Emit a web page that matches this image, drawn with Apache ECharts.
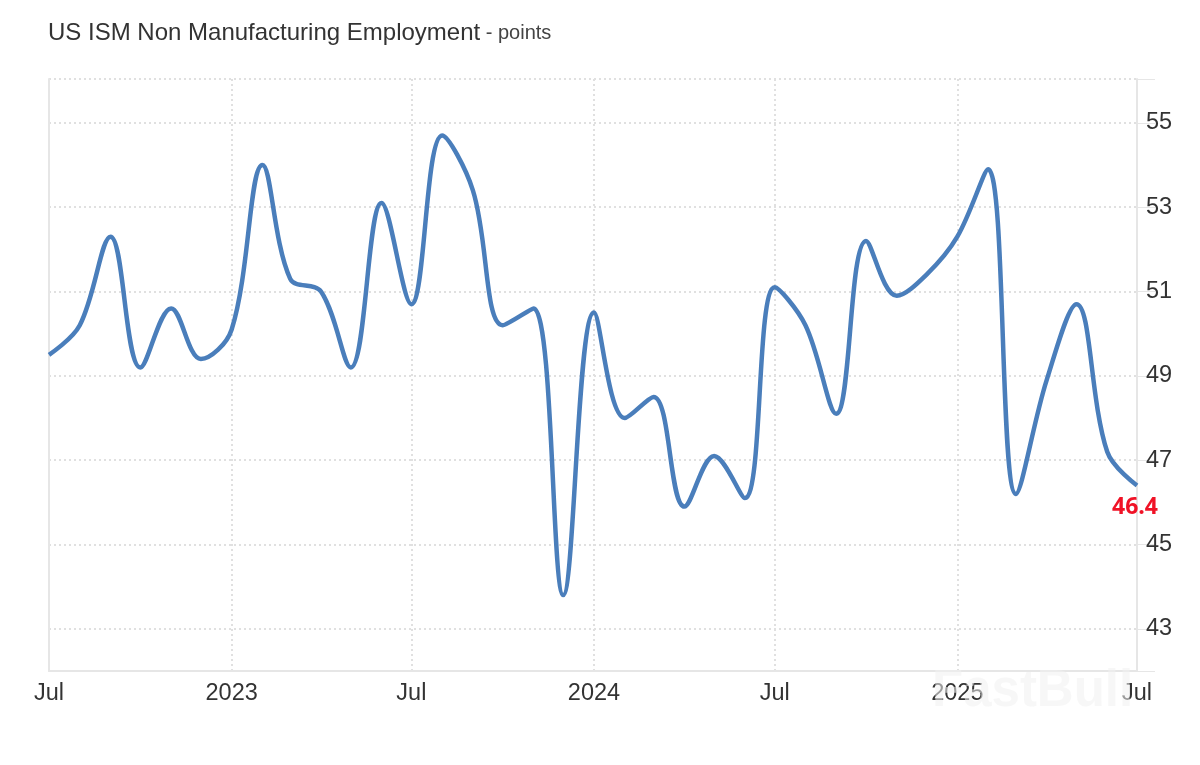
<!DOCTYPE html>
<html>
<head>
<meta charset="utf-8">
<title>US ISM Non Manufacturing Employment</title>
<script src="https://cdn.jsdelivr.net/npm/echarts@6/dist/echarts.min.js"></script>
<style>
  html, body { margin: 0; padding: 0; background: #fff; }
  #main { width: 1200px; height: 765px; }
</style>
</head>
<body>
<div id="main"></div>
<script>
const months = [
  '2022-07', '2022-08', '2022-09', '2022-10', '2022-11', '2022-12',
  '2023-01', '2023-02', '2023-03', '2023-04', '2023-05', '2023-06',
  '2023-07', '2023-08', '2023-09', '2023-10', '2023-11', '2023-12',
  '2024-01', '2024-02', '2024-03', '2024-04', '2024-05', '2024-06',
  '2024-07', '2024-08', '2024-09', '2024-10', '2024-11', '2024-12',
  '2025-01', '2025-02', '2025-03', '2025-04', '2025-05', '2025-06',
  '2025-07'
];
const values = [
  49.5, 50.2, 52.3, 49.2, 50.6, 49.4,
  50.1, 54.0, 51.3, 51.0, 49.2, 53.1,
  50.7, 54.7, 53.4, 50.2, 50.6, 43.8,
  50.5, 48.0, 48.5, 45.9, 47.1, 46.1,
  51.1, 50.2, 48.1, 52.2, 50.9, 51.4,
  52.3, 53.9, 46.2, 48.9, 50.7, 47.2,
  46.4
];
const xTickMonths = ['2022-07', '2023-01', '2023-07', '2024-01', '2024-07', '2025-01', '2025-07'];
const xTickLabels = ['Jul', '2023', 'Jul', '2024', 'Jul', '2025', 'Jul'];
const yTickLabels = [43, 45, 47, 49, 51, 53, 55];
const yMin = 42;
const yMax = 56.04;

const axisGrey = '#e6e6e6';
const dotted = { color: '#e0e0e0', width: 2, type: [2, 3] };

function toTime(month) {
  return +echarts.time.parse(month);
}

function loadChart() {
  const myChart = echarts.init(document.getElementById('main'));
  const xTicks = xTickMonths.map(toTime);
  const option = {
    animation: false,
    backgroundColor: '#fff',
    textStyle: { fontFamily: 'Liberation Sans' },
    title: {
      left: 43,
      top: 16,
      text: '{a|US ISM Non Manufacturing Employment}{b| - points}',
      textStyle: {
        fontWeight: 'normal',
        rich: {
          a: { fontSize: 24, fontWeight: 'normal', color: '#333', fontFamily: 'Liberation Sans' },
          b: { fontSize: 20, fontWeight: 'normal', color: '#444', fontFamily: 'Liberation Sans' }
        }
      }
    },
    graphic: [{
      type: 'text',
      z: 100,
      left: 932,
      top: 666,
      style: {
        text: 'FastBull',
        font: 'bold 51px "Liberation Sans"',
        fill: 'rgba(240,240,240,0.55)'
      }
    }],
    grid: { left: 49, right: 63, top: 79, bottom: 94 },
    // value axis on timestamps, so months fall by their real date
    xAxis: {
      type: 'value',
      min: xTicks[0],
      max: xTicks[xTicks.length - 1],
      axisLine: { lineStyle: { color: axisGrey, width: 2 } },
      axisTick: { show: false, customValues: xTicks },
      axisLabel: {
        margin: 11,
        fontSize: 23.5,
        color: '#333',
        customValues: xTicks,
        formatter: (value) => xTickLabels[xTicks.indexOf(value)]
      },
      splitLine: { show: true, lineStyle: dotted }
    },
    yAxis: [
      {
        type: 'value',
        position: 'right',
        min: yMin,
        max: yMax,
        axisLine: { show: true, lineStyle: { color: axisGrey, width: 2 } },
        axisTick: {
          show: true,
          length: 18,
          lineStyle: { color: axisGrey },
          customValues: [yMin, ...yTickLabels, yMax]
        },
        axisLabel: {
          margin: 9,
          fontSize: 23.5,
          color: '#333',
          padding: [0, 0, 8, 0],
          customValues: yTickLabels
        },
        splitLine: { show: true, lineStyle: dotted }
      },
      {
        type: 'value',
        position: 'left',
        min: yMin,
        max: yMax,
        axisLine: { show: true, lineStyle: { color: axisGrey, width: 2 } },
        axisTick: { show: false },
        axisLabel: { show: false },
        splitLine: { show: false }
      }
    ],
    series: [{
      type: 'line',
      data: values.map((v, i) => [toTime(months[i]), v]),
      smooth: 0.37,
      showSymbol: false,
      lineStyle: { color: '#4a7ebb', width: 4.5 },
      endLabel: {
        show: true,
        formatter: () => String(values[values.length - 1]),
        align: 'center',
        verticalAlign: 'top',
        offset: [-10, 10],
        color: '#f01226',
        fontSize: 23,
        fontWeight: 'bold',
        fontFamily: 'Open Sans'
      }
    }]
  };
  myChart.setOption(option);
}

document.addEventListener('DOMContentLoaded', () => {
  loadChart();
});
</script>
</body>
</html>
